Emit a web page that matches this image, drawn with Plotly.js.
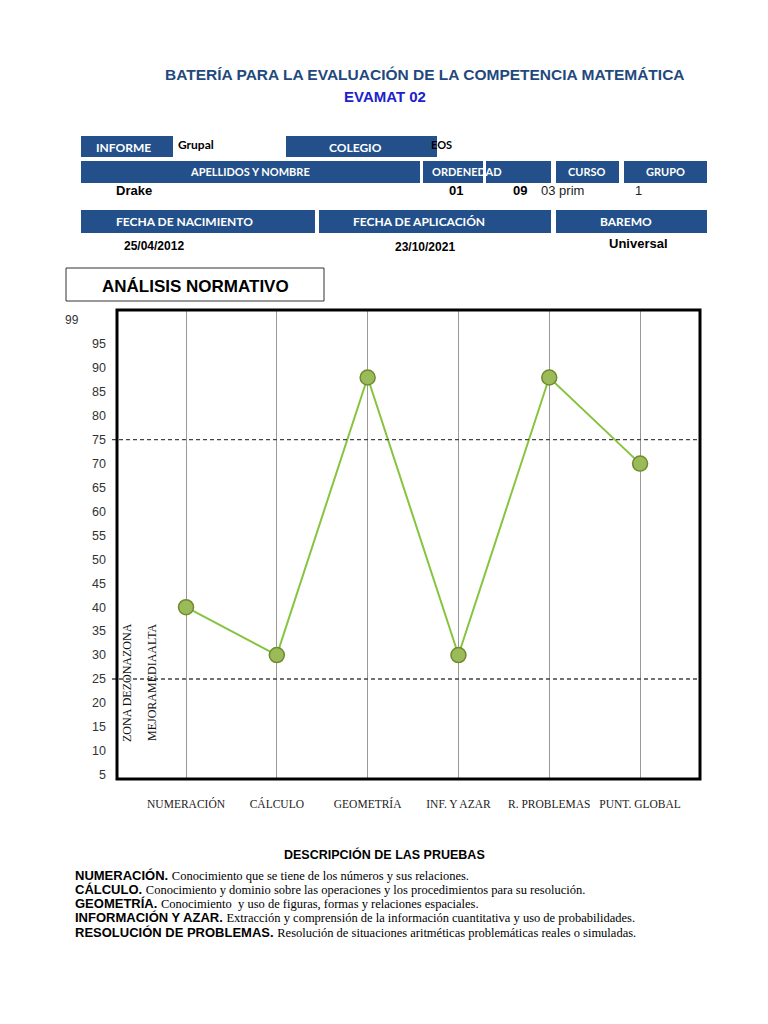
<!DOCTYPE html>
<html>
<head>
<meta charset="utf-8">
<script src="https://cdn.plot.ly/plotly-3.0.1.min.js"></script>
<style>html,body{margin:0;padding:0;background:#fff;}#chart{width:768px;height:1024px;}</style>
</head>
<body>
<div id="chart"></div>
<script>
// ---- data ----
const categories = ["NUMERACIÓN", "CÁLCULO", "GEOMETRÍA", "INF. Y AZAR", "R. PROBLEMAS", "PUNT. GLOBAL"];
const percentiles = [40, 30, 88, 30, 88, 70];
const yTickValues = [5,10,15,20,25,30,35,40,45,50,55,60,65,70,75,80,85,90,95];
const zoneLimits = [25, 75];
const zoneLabels = ["ZONA DEZONAZONA", "MEJORAMEDIAALTA"];
const descLabels = ["NUMERACIÓN.", "CÁLCULO.", "GEOMETRÍA.", "INFORMACIÓN Y AZAR.", "RESOLUCIÓN DE PROBLEMAS."];
const descTexts = [
  "Conocimiento que se tiene de los números y sus relaciones.",
  "Conocimiento y dominio sobre las operaciones y los procedimientos para su resolución.",
  "Conocimiento  y uso de figuras, formas y relaciones espaciales.",
  "Extracción y comprensión de la información cuantitativa y uso de probabilidades.",
  "Resolución de situaciones aritméticas problemáticas reales o simuladas."
];

// ---- page geometry (pixels) ----
const W = 768, H = 1024, L = 117, R = 700, T = 310, B = 779;
const px = p => (p - L) / (R - L);
const py = p => (B - p) / (B - T);
const BLUE = "#23508A";
const SANS = "Liberation Sans, Arial, sans-serif";
const NARROW = "Liberation Sans Narrow, Liberation Sans, Arial, sans-serif";
const CAL = "Lato, Open Sans, sans-serif";
const SERIF = "Liberation Serif, Times New Roman, serif";

const shapes = [];
const annotations = [];

function box(x0, y0, x1, y1, fill, line) {
  shapes.push({type: "rect", xref: "paper", yref: "paper", x0: px(x0), x1: px(x1), y0: py(y1), y1: py(y0),
    fillcolor: fill, line: line || {width: 0}, layer: "below"});
}
function txt(text, x, y, opts) {
  opts = opts || {};
  annotations.push({text: text, xref: "paper", yref: "paper", x: px(x), y: py(y), showarrow: false,
    xanchor: opts.xa || "center", yanchor: "middle", textangle: opts.angle || 0,
    font: {family: opts.family || SANS, size: opts.size || 12, color: opts.color || "#000"}});
}

// title
txt("<b>BATERÍA PARA LA EVALUACIÓN DE LA COMPETENCIA MATEMÁTICA</b>", 425, 75, {size: 15.5, color: "#1F497D"});
txt("<b>EVAMAT 02</b>", 385, 96, {size: 15, color: "#1C22CC"});

// header rows
box(81, 136, 173, 157, BLUE);  txt("<b>INFORME</b>", 123, 147, {family: CAL, size: 12, color: "#fff"});
txt("<b>Grupal</b>", 176, 145, {family: CAL, size: 12, xa: "left"});
box(286, 136, 437, 157, BLUE); txt("<b>COLEGIO</b>", 355, 147, {family: CAL, size: 12, color: "#fff"});
txt("<b>EOS</b>", 429, 145, {family: CAL, size: 11, xa: "left"});

box(81, 161, 420, 183, BLUE);  txt("<b>APELLIDOS Y NOMBRE</b>", 250, 172, {family: CAL, size: 11, color: "#fff"});
box(423, 161, 483, 183, BLUE); txt("<b>ORDENEDAD</b>", 430, 172, {family: CAL, size: 11, color: "#fff", xa: "left"});
box(486, 161, 551, 183, BLUE);
box(556, 161, 619, 183, BLUE); txt("<b>CURSO</b>", 587, 172, {family: CAL, size: 11, color: "#fff"});
box(624, 161, 707, 183, BLUE); txt("<b>GRUPO</b>", 665, 172, {family: CAL, size: 11, color: "#fff"});

txt("<b>Drake</b>", 114, 190, {size: 13, xa: "left"});
txt("<b>01</b>", 447, 190, {size: 13, xa: "left"});
txt("<b>09</b>", 511, 190, {size: 13, xa: "left"});
txt("03 prim", 539, 191, {family: NARROW, size: 13, xa: "left", color: "#222"});
txt("1", 633, 191, {family: NARROW, size: 13, xa: "left", color: "#222"});

box(81, 210, 315, 233, BLUE);  txt("<b>FECHA DE NACIMIENTO</b>", 184, 222, {family: CAL, size: 12, color: "#fff"});
box(319, 210, 551, 233, BLUE); txt("<b>FECHA DE APLICACIÓN</b>", 419, 222, {family: CAL, size: 12, color: "#fff"});
box(556, 210, 707, 233, BLUE); txt("<b>BAREMO</b>", 626, 222, {family: CAL, size: 12, color: "#fff"});

txt("<b>25/04/2012</b>", 154, 246, {family: NARROW, size: 12});
txt("<b>23/10/2021</b>", 425, 247, {family: NARROW, size: 12});
txt("<b>Universal</b>", 638, 243, {size: 13});

// ANÁLISIS NORMATIVO box
box(66, 268, 324, 301, "#fff", {color: "#333", width: 1});
txt("<b>ANÁLISIS NORMATIVO</b>", 195, 286, {size: 17});

// 99 label
txt("99", 72, 320, {family: NARROW, size: 12, color: "#333"});

// zone labels (rotated)
txt(zoneLabels[0], 127, 683, {family: SERIF, size: 12, angle: -90, color: "#111"});
txt(zoneLabels[1], 152, 682, {family: SERIF, size: 12, angle: -90, color: "#111"});

// zone dashed limits
zoneLimits.forEach(v => shapes.push({type: "line", xref: "paper", yref: "y", x0: px(112), x1: 1, y0: v, y1: v,
  line: {color: "#444", width: 1.3, dash: "4px,3px"}, layer: "above"}));

// plot frame
shapes.push({type: "rect", xref: "paper", yref: "paper", x0: 0, x1: 1, y0: 0, y1: 1,
  line: {color: "#000", width: 3}, layer: "above"});

// description
txt("<b>DESCRIPCIÓN DE LAS PRUEBAS</b>", 384, 854, {size: 12.5});
descLabels.forEach((lab, i) => {
  txt("<b>" + lab + "</b> <span style=\"font-family:Liberation Serif, serif;font-size:12.5px\">" + descTexts[i] + "</span>",
    73, 875 + i * 14.3, {family: NARROW, size: 13, xa: "left"});
});

const trace = {
  x: categories, y: percentiles, type: "scatter", mode: "lines+markers", cliponaxis: false,
  line: {color: "#86C440", width: 2},
  marker: {size: 15, color: "#9BBB59", line: {color: "#6E8B30", width: 1.5}},
  hoverinfo: "skip"
};

const layout = {
  width: W, height: H, showlegend: false,
  paper_bgcolor: "#fff", plot_bgcolor: "#fff",
  margin: {l: L, r: W - R, t: T, b: H - B, pad: 0},
  xaxis: {type: "category", range: [-0.76, 5.66], showgrid: true, gridcolor: "#999", gridwidth: 1,
    zeroline: false, showline: false, ticks: "", ticklabelstandoff: 16,
    tickfont: {family: SERIF, size: 11.5, color: "#222"}, fixedrange: true},
  yaxis: {range: [4.1, 102.1], tickvals: yTickValues, showgrid: false, zeroline: false, showline: false,
    ticks: "", ticklabelstandoff: 10, tickfont: {family: NARROW, size: 12.5, color: "#333"}, fixedrange: true},
  shapes: shapes, annotations: annotations
};

Plotly.newPlot("chart", [trace], layout, {displayModeBar: false, staticPlot: true});
</script>
</body>
</html>
